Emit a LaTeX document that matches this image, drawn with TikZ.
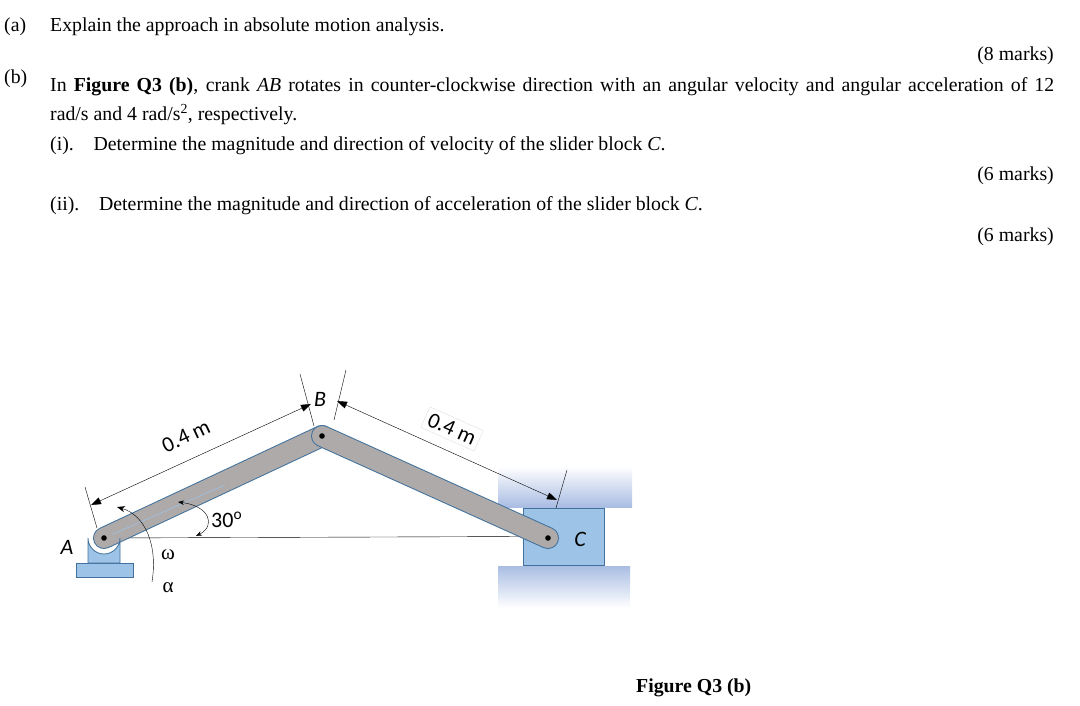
\documentclass[tikz,border=0pt]{standalone}
\usepackage{fontspec}
\setmainfont{Liberation Serif}
\newfontfamily\figfont{Carlito}
\usetikzlibrary{arrows.meta}
\definecolor{pinblue}{HTML}{9DC3E6}
\definecolor{edgeblue}{HTML}{41719C}
\definecolor{linkgray}{HTML}{AEAAAA}
\definecolor{guideblue}{HTML}{A9BDE3}
\begin{document}
\begin{tikzpicture}[x=1pt,y=-1pt,
  txt/.style={anchor=base west,inner sep=0pt,font=\fontsize{19.8}{22}\selectfont},
  rtxt/.style={anchor=base east,inner sep=0pt,font=\fontsize{19.8}{22}\selectfont},
  lbl/.style={font=\figfont\itshape\fontsize{22}{24}\selectfont,inner sep=0pt},
  dim/.style={font=\figfont\fontsize{22}{24}\selectfont,inner sep=1pt},
  part/.style={fill=pinblue,draw=edgeblue,line width=0.8pt},
  dimarr/.style={thin,{Triangle[length=10pt,width=7pt]}-{Triangle[length=10pt,width=7pt]}},
  ext/.style={thin}]
\useasboundingbox (0,0) rectangle (1080,706);
% text
\node[txt] (ta) at (4,32) {(a)};
\node[txt] at (50,32) {Explain the approach in absolute motion analysis.};
\node[rtxt] at (1054,61) {(8 marks)};
\node[txt] at (4,84) {(b)};
\node[txt] at (50,92) {\makebox[1004pt][s]{In \textbf{Figure Q3 (b)}, crank \textit{AB} rotates in counter-clockwise direction with an angular velocity and angular acceleration of 12}};
\node[txt] at (50,121) {rad/s and 4 rad/s\textsuperscript{2}, respectively.};
\node[txt] at (50,151) {(i).\quad Determine the magnitude and direction of velocity of the slider block \textit{C}.};
\node[rtxt] at (1054,181) {(6 marks)};
\node[txt] at (50,211) {(ii).\quad Determine the magnitude and direction of acceleration of the slider block \textit{C}.};
\node[rtxt] at (1054,241) {(6 marks)};
\node[txt,font=\bfseries\fontsize{19.8}{22}\selectfont] at (636,692) {Figure Q3 (b)};
% guides
\shade[top color=white,bottom color=guideblue] (498,466) rectangle (632,507);
\shade[top color=guideblue,bottom color=white] (498,566) rectangle (630,608);
% block C
\node[part,minimum width=81pt,minimum height=57pt,inner sep=0pt] (blk) at (563.5,536.5) {};
\coordinate (A) at (104,538);
\coordinate (B) at (322,436);
\coordinate (C) at (548,538);
% horizontal line
\draw[thin] (A) -- (blk.west);
% links
\draw[edgeblue,line width=22pt,line cap=round] (A) -- (B);
\draw[linkgray,line width=20pt,line cap=round] (A) -- (B);
\draw[edgeblue,line width=22pt,line cap=round] (B) -- (C);
\draw[linkgray,line width=20pt,line cap=round] (B) -- (C);
\draw[pinblue,line width=0.6pt] (113,534) -- (225,485);
% base
\node[part,minimum width=57pt,minimum height=14pt,inner sep=0pt] (base) at (104.5,570) {};
\draw[part] (88,563) -- (88,538) arc[start angle=180,end angle=0,radius=16] -- (120,563) -- cycle;
\fill (A) circle (2.8pt);
\fill (B) circle (2.8pt);
\fill (C) circle (2.8pt);
% dimensions
\draw[ext] (85,487) -- (97,528);
\draw[ext] (300,374) -- (314,426);
\coordinate (d1) at (91,505);
\coordinate (d2) at (311,404);
\draw[dimarr] (d1) -- (d2);
\node[dim,rotate=25] (l1) at (186,436) {0.4 m};
\draw[ext] (346,370) -- (334,420);
\draw[ext] (567,470) -- (556,508);
\coordinate (d3) at (337,401);
\coordinate (d4) at (557,500);
\draw[dimarr] (d3) -- (d4);
\node[dim,rotate=-24,draw=gray!25,inner sep=4pt] (l2) at (452,429) {0.4 m};
\node[lbl] (la) at (67,547) {A};
\node[lbl] (lb) at (320,399) {B};
\node[lbl] (lc) at (580,539) {C};
% angle 30
\draw[thin,{Stealth[length=6pt]}-{Stealth[length=6pt]}] (196,536) .. controls (216,526) and (210,506) .. (178,502);
\node[dim,anchor=west] (l30) at (210,520) {30\textsuperscript{o}};
% omega arc
\draw[thin,-{Stealth[length=8pt]}] (152,582) .. controls (158,545) and (145,515) .. (117,507);
\node[font=\fontsize{21}{22}\selectfont] (w) at (168,555) {ω};
\node[font=\fontsize{21}{22}\selectfont] (al) at (168,588) {α};
\end{tikzpicture}
\end{document}
